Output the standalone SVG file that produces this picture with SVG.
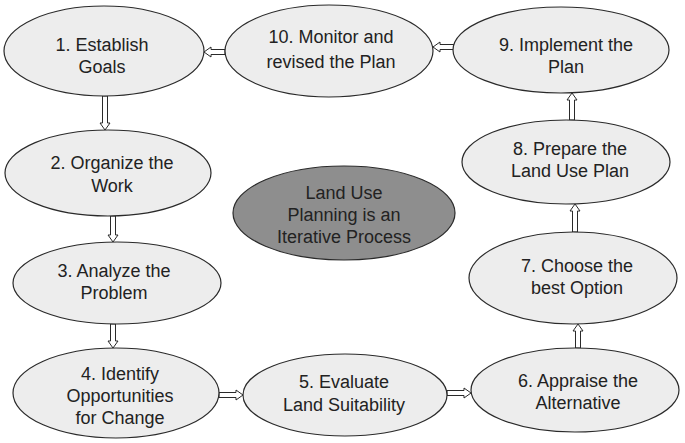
<svg xmlns="http://www.w3.org/2000/svg" width="685" height="443" viewBox="0 0 685 443">
<style>
.n{fill:#ededed;stroke:#2a2a2a;stroke-width:1.2}
.c{fill:#8e8e8e;stroke:#2a2a2a;stroke-width:1.2}
.t{font-family:"Liberation Sans",Arial,sans-serif;font-size:18px;fill:#222;text-anchor:middle}
.a{fill:#fff;stroke:#2a2a2a;stroke-width:1}
</style>
<rect width="685" height="443" fill="#fff"/>
<g id="connectors">
<!-- 1 -> 2 down -->
<polygon class="a" points="102.5,96 107.5,96 107.5,123 110,123 105,130 100,123 102.5,123"/>
<!-- 2 -> 3 down -->
<polygon class="a" points="110.5,216 115.5,216 115.5,235 118,235 113,242 108,235 110.5,235"/>
<!-- 3 -> 4 down -->
<polygon class="a" points="110.5,324 115.5,324 115.5,341 118,341 113,348 108,341 110.5,341"/>
<!-- 4 -> 5 right -->
<polygon class="a" points="219,392.5 236,392.5 236,390 243,395 236,400 236,397.5 219,397.5"/>
<!-- 5 -> 6 right -->
<polygon class="a" points="447,390.5 464,390.5 464,388 471,393 464,398 464,395.5 447,395.5"/>
<!-- 6 -> 7 up -->
<polygon class="a" points="575.5,348 580.5,348 580.5,331 583,331 578,324 573,331 575.5,331"/>
<!-- 7 -> 8 up -->
<polygon class="a" points="572.5,232 577.5,232 577.5,211 580,211 575,204 570,211 572.5,211"/>
<!-- 8 -> 9 up -->
<polygon class="a" points="569.5,120 574.5,120 574.5,100 577,100 572,93 567,100 569.5,100"/>
<!-- 9 -> 10 left -->
<polygon class="a" points="454,44.5 440,44.5 440,42 433,47 440,52 440,49.5 454,49.5"/>
<!-- 10 -> 1 left -->
<polygon class="a" points="225,49.5 211,49.5 211,47 204,52 211,57 211,54.5 225,54.5"/>
</g>
<g id="node1"><ellipse class="n" cx="104" cy="51" rx="100" ry="45"/><text class="t" x="102" y="51">1. Establish</text><text class="t" x="102" y="73">Goals</text></g>
<g id="node2"><ellipse class="n" cx="108" cy="173" rx="103" ry="43"/><text class="t" x="112" y="169">2. Organize the</text><text class="t" x="112" y="192">Work</text></g>
<g id="node3"><ellipse class="n" cx="117" cy="283" rx="104" ry="41"/><text class="t" x="114" y="277">3. Analyze the</text><text class="t" x="114" y="299">Problem</text></g>
<g id="node4"><ellipse class="n" cx="116" cy="393" rx="103" ry="45"/><text class="t" x="120" y="380">4. Identify</text><text class="t" x="120" y="402">Opportunities</text><text class="t" x="120" y="424">for Change</text></g>
<g id="node5"><ellipse class="n" cx="345" cy="395" rx="102" ry="41"/><text class="t" x="344" y="388">5. Evaluate</text><text class="t" x="344" y="411">Land Suitability</text></g>
<g id="node6"><ellipse class="n" cx="575" cy="390" rx="104" ry="42"/><text class="t" x="578" y="387">6. Appraise the</text><text class="t" x="578" y="409">Alternative</text></g>
<g id="node7"><ellipse class="n" cx="573" cy="278" rx="104" ry="46"/><text class="t" x="577" y="272">7. Choose the</text><text class="t" x="577" y="294">best Option</text></g>
<g id="node8"><ellipse class="n" cx="566" cy="162" rx="104" ry="42"/><text class="t" x="570" y="155">8. Prepare the</text><text class="t" x="570" y="177">Land Use Plan</text></g>
<g id="node9"><ellipse class="n" cx="561" cy="50" rx="108" ry="43"/><text class="t" x="566" y="51">9. Implement the</text><text class="t" x="566" y="73">Plan</text></g>
<g id="node10"><ellipse class="n" cx="329" cy="51" rx="104" ry="46"/><text class="t" x="331" y="43">10. Monitor and</text><text class="t" x="331" y="68">revised the Plan</text></g>
<g id="center"><ellipse class="c" cx="344" cy="213" rx="111" ry="47"/><text class="t" x="344" y="199">Land Use</text><text class="t" x="344" y="221">Planning is an</text><text class="t" x="344" y="243">Iterative Process</text></g>
</svg>
